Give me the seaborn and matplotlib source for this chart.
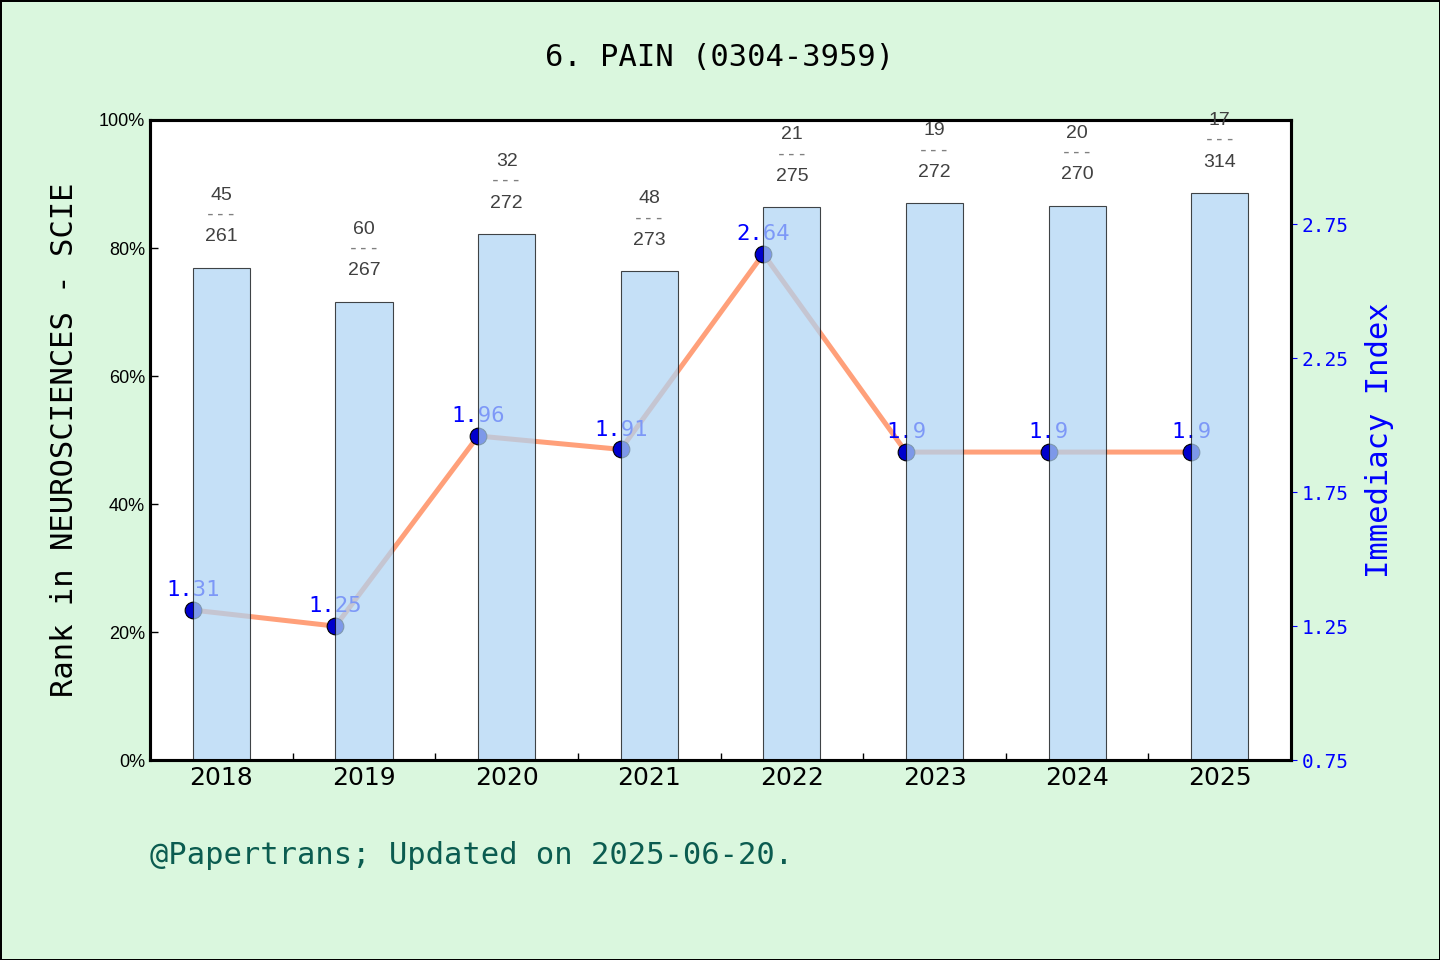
import pandas as pd
import matplotlib.pyplot as plt
import seaborn as sns
from matplotlib.ticker import PercentFormatter, FixedLocator

# --- Data ---
years = ["2018", "2019", "2020", "2021", "2022", "2023", "2024", "2025"]
rank = [45, 60, 32, 48, 21, 19, 20, 17]
total = [261, 267, 272, 273, 275, 272, 270, 314]
bar_pct = [0.769, 0.716, 0.822, 0.764, 0.864, 0.870, 0.866, 0.886]
immediacy = [1.31, 1.25, 1.96, 1.91, 2.64, 1.9, 1.9, 1.9]

df = pd.DataFrame({"year": years, "pct": bar_pct, "ii": immediacy})
df["pos"] = range(len(years))
df["pos_line"] = df["pos"] - 0.2

sns.set_style("ticks")
plt.rcParams["font.family"] = ["DejaVu Sans"]
plt.rcParams.update({"text.color": "black", "axes.labelcolor": "black",
                     "xtick.color": "black", "ytick.color": "black"})
mono = "DejaVu Sans Mono"

fig = plt.figure(figsize=(14.4, 9.6), dpi=100, facecolor="#DAF7DE", edgecolor="black", linewidth=1)
ax = fig.add_axes([0.1042, 0.2083, 0.7924, 0.6667])
ax2 = ax.twinx()

# line (right axis) sits underneath the translucent bars
ax2.set_zorder(1)
ax.set_zorder(2)
ax.patch.set_visible(False)
ax2.set_facecolor("white")
ax2.patch.set_visible(True)

sns.lineplot(data=df, x="pos_line", y="ii", ax=ax2, color="#FFA07A", linewidth=3.6,
             marker="o", markersize=12, markerfacecolor="#0000CD", markeredgecolor="black",
             markeredgewidth=0.8)
for x, v in zip(df["pos_line"], immediacy):
    ax2.annotate(f"{v:g}", (x, v), xytext=(0, 7), textcoords="offset points",
                 ha="center", va="bottom", color="blue", fontsize=16, family=mono)

sns.barplot(data=df, x="year", y="pct", ax=ax, color="#AFD4F4", alpha=0.72, width=0.4,
            saturation=1, edgecolor="black", linewidth=0.8)

for i, (r, t, p) in enumerate(zip(rank, total, bar_pct)):
    ax.text(i, p + 0.035, f"{t}", ha="center", va="bottom", fontsize=14,
            color="#404040", family="Liberation Sans")
    ax.text(i, p + 0.07, "---", ha="center", va="bottom", fontsize=13,
            color="#808080", family=mono)
    ax.text(i, p + 0.1, f"{r}", ha="center", va="bottom", fontsize=14,
            color="#404040", family="Liberation Sans")

ax.set_xlim(-0.5, 7.5)
ax.set_ylim(0, 1)
ax.yaxis.set_major_formatter(PercentFormatter(1.0, decimals=0))
ax.set_yticks([0, 0.2, 0.4, 0.6, 0.8, 1.0])
ax.tick_params(axis="y", direction="in", length=6, labelsize=13, width=1)
for lab in ax.get_yticklabels():
    lab.set_family("Liberation Sans")
ax.tick_params(axis="x", length=0, labelsize=18, pad=4)
ax.xaxis.set_minor_locator(FixedLocator([i + 0.5 for i in range(7)]))
ax.tick_params(axis="x", which="minor", direction="in", length=5, width=1)
ax.set_xlabel("")
ax.set_ylabel("Rank in NEUROSCIENCES - SCIE", fontsize=22, family=mono, labelpad=14)

ax2.set_ylim(0.75, 3.14)
ax2.set_yticks([0.75, 1.25, 1.75, 2.25, 2.75])
ax2.tick_params(axis="y", colors="blue", direction="out", length=4, labelsize=14)
for lab in ax2.get_yticklabels():
    lab.set_family(mono)
ax2.set_ylabel("Immediacy Index", fontsize=22, family=mono, color="blue", labelpad=12)
ax2.set_xlabel("")

for a in (ax, ax2):
    for s in a.spines.values():
        s.set_visible(True)
        s.set_linewidth(2.2)
        s.set_color("black")

fig.text(0.5, 0.94, "6. PAIN (0304-3959)", ha="center", va="center", fontsize=22,
         family=mono, color="black")
fig.text(0.104, 0.109, "@Papertrans; Updated on 2025-06-20.", ha="left", va="center",
         fontsize=22, family=mono, color="#0B5C50")

fig.savefig("out.png", dpi=100, facecolor=fig.get_facecolor(), edgecolor=fig.get_edgecolor())
